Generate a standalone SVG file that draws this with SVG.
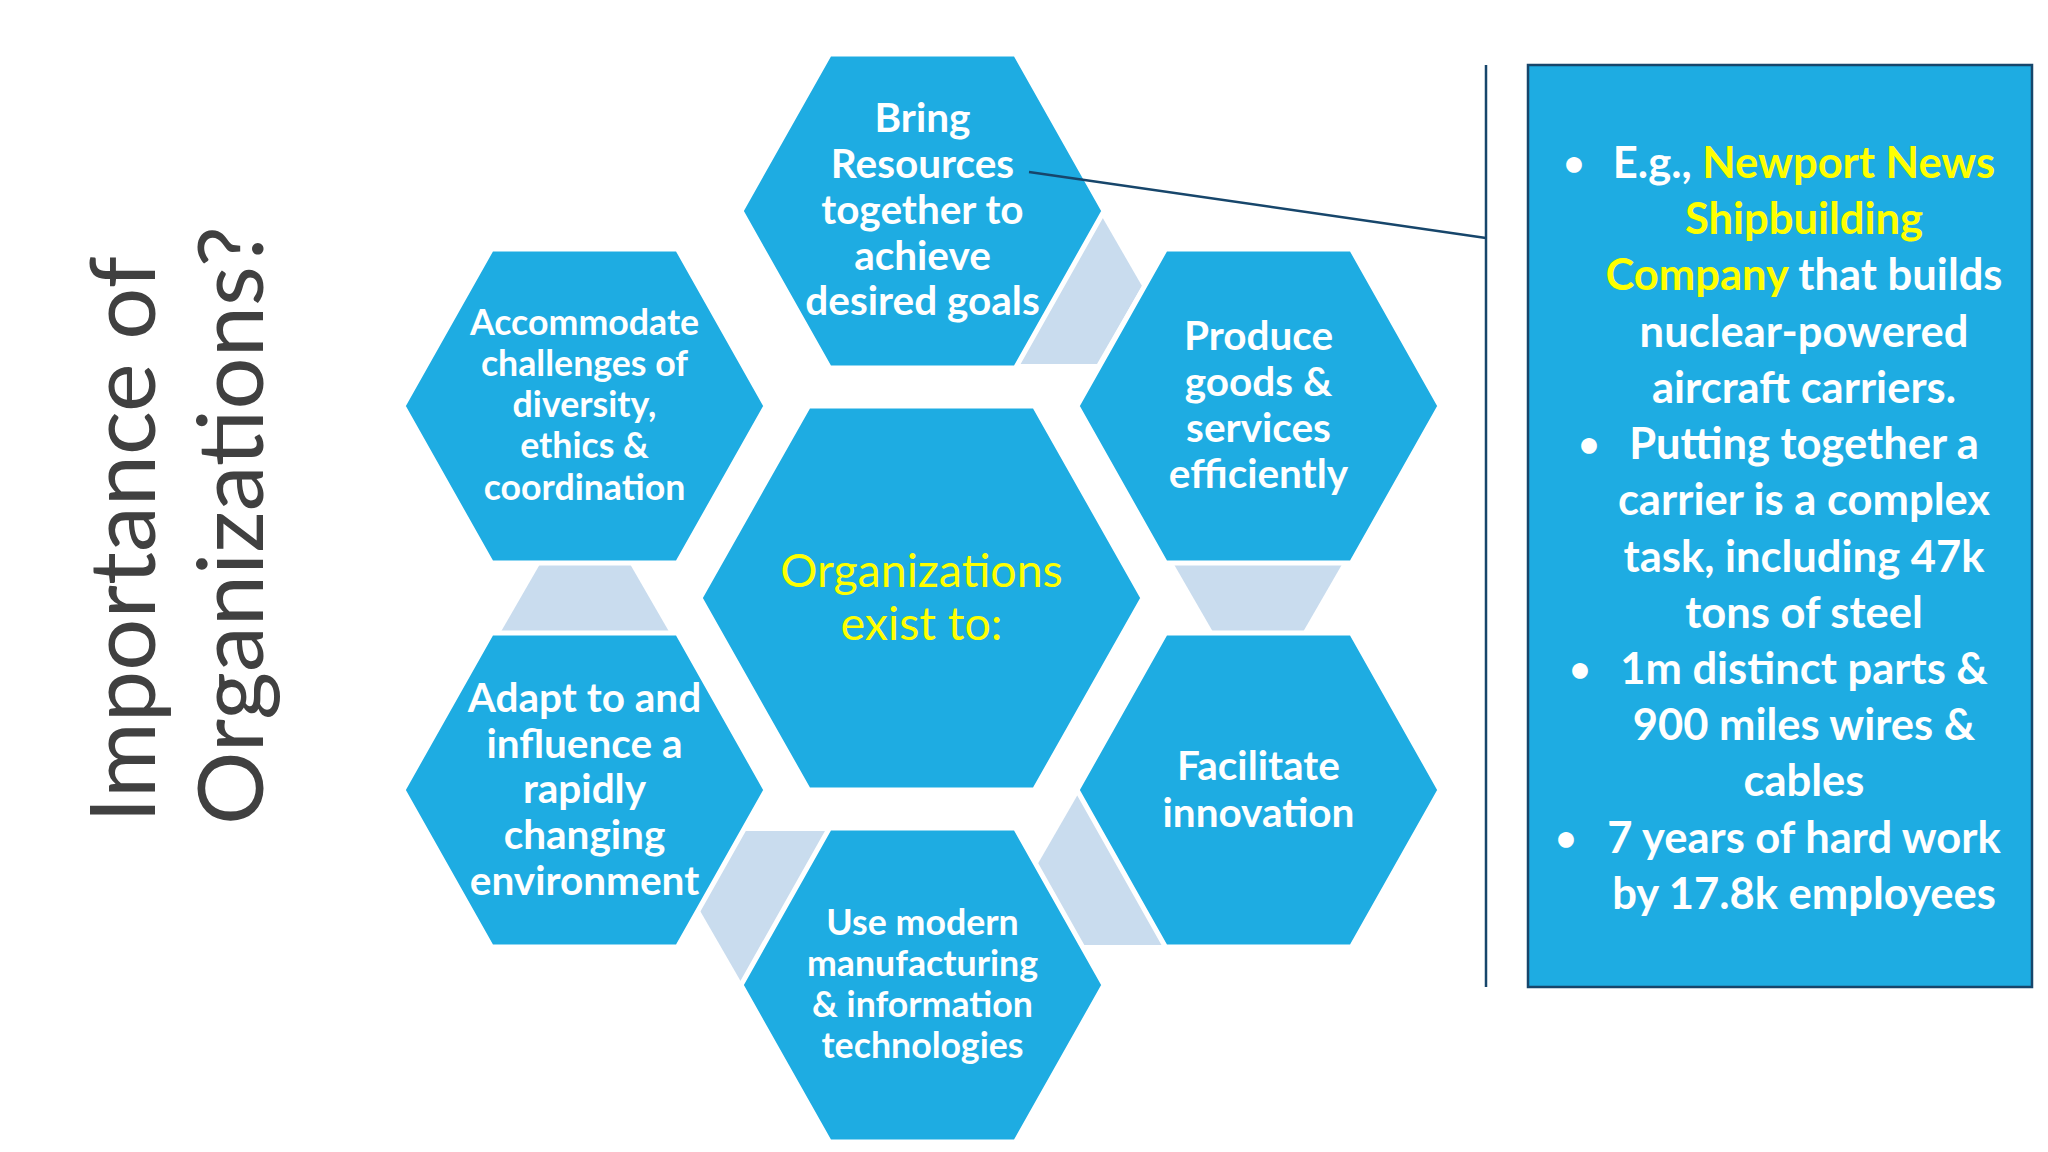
<svg xmlns="http://www.w3.org/2000/svg" width="2048" height="1152" viewBox="0 0 2048 1152">
<style>
.bg{fill:#ffffff}
.hex{fill:#1EACE2;stroke:#ffffff;stroke-width:5}
.con{fill:#C9DCEE}
.t{font-family:Lato,"Open Sans","Liberation Sans",sans-serif;font-weight:700;fill:#ffffff;text-anchor:middle}
.s38{font-size:40.5px}
.s34{font-size:35.7px}
.ctr{font-family:Lato,"Open Sans","Liberation Sans",sans-serif;font-weight:400;font-size:46.5px;fill:#FFFF00;text-anchor:middle}
.title{font-family:Lato,"Open Sans","Liberation Sans",sans-serif;font-weight:400;font-size:92px;fill:#404040}
.panel{fill:#1EACE2;stroke:#17466B;stroke-width:2.5}
.pt{font-family:Lato,"Open Sans","Liberation Sans",sans-serif;font-weight:700;font-size:43.5px;fill:#ffffff;text-anchor:middle}
.b{font-size:36px}
.y{fill:#FFFF00}
.line{stroke:#17466B;stroke-width:2.5;fill:none}
</style>
<rect class="bg" x="0" y="0" width="2048" height="1152"/>

<g id="title">
<text class="title" transform="translate(155,823) rotate(-90)">Importance of</text>
<text class="title" transform="translate(263,825) rotate(-90)">Organizations?</text>
</g>

<g id="connectors">
<polygon class="con" points="962,286 1007,208 1097,208 1142,286 1097,364 1007,364"/>
<polygon class="con" points="1168,554 1213,476 1303,476 1348,554 1303,632 1213,632"/>
<polygon class="con" points="1036,867 1081,789 1171,789 1216,867 1171,945 1081,945"/>
<polygon class="con" points="699,909 744,831 834,831 879,909 834,987 744,987"/>
<polygon class="con" points="495,642 540,564 630,564 675,642 630,720 540,720"/>
</g>

<g id="node-center">
<polygon class="hex" points="700,598 808.5,406 1034.5,406 1143,598 1034.5,790 808.5,790"/>
<text class="ctr" x="921.5" y="587">Organizations</text>
<text class="ctr" x="921.5" y="640">exist to:</text>
</g>

<g id="node-bring">
<polygon class="hex" points="741,211 829.5,54 1015.5,54 1104,211 1015.5,368 829.5,368"/>
<text class="t s38" x="922.5" y="132">Bring</text>
<text class="t s38" x="922.5" y="178">Resources</text>
<text class="t s38" x="922.5" y="224">together to</text>
<text class="t s38" x="922.5" y="270">achieve</text>
<text class="t s38" x="922.5" y="315">desired goals</text>
</g>

<g id="node-produce">
<polygon class="hex" points="1077,406 1165.5,249 1351.5,249 1440,406 1351.5,563 1165.5,563"/>
<text class="t s38" x="1258.5" y="350">Produce</text>
<text class="t s38" x="1258.5" y="396">goods &amp;</text>
<text class="t s38" x="1258.5" y="442">services</text>
<text class="t s38" x="1258.5" y="488">efficiently</text>
</g>

<g id="node-facilitate">
<polygon class="hex" points="1077,790 1165.5,633 1351.5,633 1440,790 1351.5,947 1165.5,947"/>
<text class="t s38" x="1258.5" y="780">Facilitate</text>
<text class="t s38" x="1258.5" y="827">innovation</text>
</g>

<g id="node-use">
<polygon class="hex" points="741,985 829.5,828 1015.5,828 1104,985 1015.5,1142 829.5,1142"/>
<text class="t s34" x="922.5" y="935">Use modern</text>
<text class="t s34" x="922.5" y="976">manufacturing</text>
<text class="t s34" x="922.5" y="1017">&amp; information</text>
<text class="t s34" x="922.5" y="1058">technologies</text>
</g>

<g id="node-adapt">
<polygon class="hex" points="403,790 491.5,633 677.5,633 766,790 677.5,947 491.5,947"/>
<text class="t s38" x="584.5" y="712">Adapt to and</text>
<text class="t s38" x="584.5" y="758">influence a</text>
<text class="t s38" x="584.5" y="803">rapidly</text>
<text class="t s38" x="584.5" y="849">changing</text>
<text class="t s38" x="584.5" y="895">environment</text>
</g>

<g id="node-accommodate">
<polygon class="hex" points="403,406 491.5,249 677.5,249 766,406 677.5,563 491.5,563"/>
<text class="t s34" x="584.5" y="335">Accommodate</text>
<text class="t s34" x="584.5" y="376">challenges of</text>
<text class="t s34" x="584.5" y="417">diversity,</text>
<text class="t s34" x="584.5" y="458">ethics &amp;</text>
<text class="t s34" x="584.5" y="500">coordination</text>
</g>

<g id="callout">
<line class="line" x1="1029" y1="172" x2="1486" y2="238"/>
<line class="line" x1="1486" y1="65" x2="1486" y2="987"/>
</g>

<g id="node-example">
<rect class="panel" x="1528" y="65" width="504" height="922"/>
<text class="pt b" x="1574" y="176">•</text>
<text class="pt" x="1804" y="178">E.g., <tspan class="y">Newport News</tspan></text>
<text class="pt y" x="1804" y="234">Shipbuilding</text>
<text class="pt" x="1804" y="290"><tspan class="y">Company</tspan> that builds</text>
<text class="pt" x="1804" y="347">nuclear-powered</text>
<text class="pt" x="1804" y="403">aircraft carriers.</text>
<text class="pt b" x="1589" y="457">•</text>
<text class="pt" x="1804" y="459">Putting together a</text>
<text class="pt" x="1804" y="515">carrier is a complex</text>
<text class="pt" x="1804" y="572">task, including 47k</text>
<text class="pt" x="1804" y="628">tons of steel</text>
<text class="pt b" x="1580" y="682">•</text>
<text class="pt" x="1804" y="684">1m distinct parts &amp;</text>
<text class="pt" x="1804" y="740">900 miles wires &amp;</text>
<text class="pt" x="1804" y="796">cables</text>
<text class="pt b" x="1566" y="851">•</text>
<text class="pt" x="1804" y="853">7 years of hard work</text>
<text class="pt" x="1804" y="909">by 17.8k employees</text>
</g>
</svg>
